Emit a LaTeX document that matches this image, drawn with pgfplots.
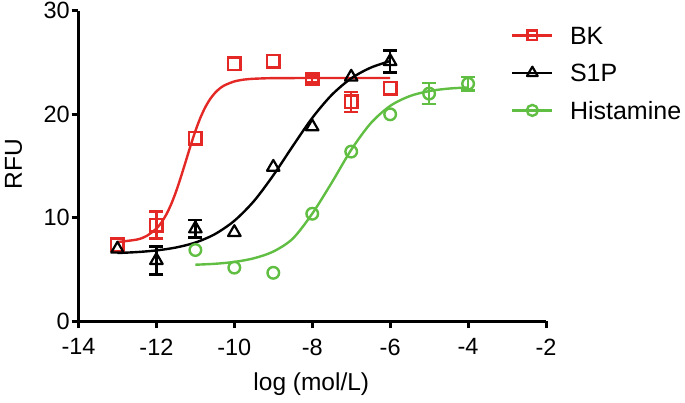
\documentclass[border=0pt]{standalone}
\usepackage{fontspec}
\setmainfont{Liberation Sans}
\usepackage{pgfplots}
\usepackage{pgfplotstable}
\pgfplotsset{compat=1.18}
\definecolor{bkred}{RGB}{228,40,38}
\definecolor{hgreen}{RGB}{96,190,66}

\pgfplotstableread{
x y
-13 7.67
-12.5 7.91
-12.25 8.26
-12 8.97
-11.875 9.54
-11.75 10.30
-11.625 11.29
-11.5 12.50
-11.375 13.91
-11.25 15.42
-11.125 16.95
-11 18.38
-10.875 19.63
-10.75 20.65
-10.625 21.45
-10.5 22.05
-10.375 22.49
-10.25 22.80
-10 23.17
-9.75 23.35
-9.5 23.43
-9 23.49
-8 23.50
-7 23.50
-6 23.50
}\bkcurve

\pgfplotstableread{
x y
-13 6.61
-12.5 6.70
-12 6.86
-11.5 7.14
-11 7.62
-10.5 8.43
-10 9.72
-9.5 11.61
-9 14.11
-8.5 16.93
-8 19.65
-7.5 21.87
-7 23.47
-6.5 24.50
-6 25.14
}\sonepcurve

\pgfplotstableread{
x y
-11 5.48
-10.5 5.57
-10 5.75
-9.5 6.10
-9 6.75
-8.5 8.00
-8 10.41
-7.5 13.40
-7 16.57
-6.5 19.13
-6 20.81
-5.5 21.75
-5 22.24
-4.5 22.48
-4 22.59
}\histcurve

\pgfplotstableread{
x y
-13 7.4
-11 17.7
-10 24.9
-9 25.1
-6 22.5
}\bkpts
\pgfplotstableread{
x y e
-12 9.3 1.3
-8 23.4 0.35
-7 21.2 0.95
}\bkerr

\pgfplotstableread{
x y
-13 7.0
-10 8.6
-9 14.9
-8 18.8
-7 23.6
}\sonepts
\pgfplotstableread{
x y e
-12 5.9 1.35
-11 8.95 0.85
-6 25.1 1.05
}\soneperr

\pgfplotstableread{
x y
-11 6.9
-10 5.2
-9 4.7
-8 10.4
-7 16.4
-6 20.0
}\histpts
\pgfplotstableread{
x y e
-5 22.0 1.0
-4 22.95 0.65
}\histerr

\begin{document}
\begin{tikzpicture}
\path[use as bounding box] (-78.5pt,-81.5pt) rectangle (606.5pt,321.5pt);
\begin{axis}[
  at={(0pt,0pt)}, anchor=south west,
  scale only axis, width=467.5pt, height=310.8pt,
  xmin=-14, xmax=-2, ymin=0, ymax=30,
  axis x line*=bottom, axis y line*=left,
  axis line style={line width=3pt, -},
  xtick={-14,-12,...,-2}, ytick={0,10,20,30},
  tick align=outside, major tick length=7pt,
  every tick/.style={black, line width=3pt},
  /pgf/number format/assume math mode=true,
  tick label style={font=\fontsize{23.5}{26}\selectfont},
  yticklabel style={inner xsep=1.5pt},
  xticklabel style={inner ysep=1pt, yshift=-9pt},
  label style={font=\fontsize{24.5}{28}\selectfont},
  xlabel={log (mol/L)}, ylabel={RFU},
  xlabel style={at={(axis description cs:0.498,-0.2215)}, anchor=base},
  ylabel style={at={(axis description cs:-0.139,0.507)}, anchor=center},
  legend image code/.code={\draw[mark repeat=2,mark phase=2] plot coordinates {(0pt,0pt)(20pt,0pt)(40pt,0pt)};},
  legend style={draw=none, fill=none, at={(0.925,0.963)}, anchor=north west,
    inner xsep=0pt, inner ysep=0pt, row sep=11.5pt, column sep=14.5pt,
    nodes={inner sep=2pt, text height=20pt, text depth=2pt},
    font=\fontsize{25}{28}\selectfont, cells={anchor=west}},
  clip=false,
]
% fitted curves
\addplot[bkred, line width=2.4pt, smooth, forget plot] table {\bkcurve};
\addplot[black, line width=2.4pt, smooth, forget plot] table {\sonepcurve};
\addplot[hgreen, line width=2.4pt, smooth, forget plot] table {\histcurve};
% points with error bars
\addplot[bkred, only marks, mark=square, mark size=6.2pt, line width=2.4pt, forget plot,
  error bars/.cd, y dir=both, y explicit, error bar style={line width=2.4pt},
  error mark options={bkred, line width=2.4pt, mark size=7pt, rotate=90}]
  table[y error=e] {\bkerr};
\addplot[black, only marks, mark=triangle, mark size=7.2pt, line width=2.2pt, mark options={line join=round}, forget plot,
  error bars/.cd, y dir=both, y explicit, error bar style={line width=2.4pt},
  error mark options={black, line width=2.4pt, mark size=7pt, rotate=90}]
  table[y error=e] {\soneperr};
\addplot[hgreen, only marks, mark=o, mark size=5.8pt, line width=2.4pt, forget plot,
  error bars/.cd, y dir=both, y explicit, error bar style={line width=2.4pt},
  error mark options={hgreen, line width=2.4pt, mark size=7pt, rotate=90}]
  table[y error=e] {\histerr};
% points without error bars
\addplot[bkred, only marks, mark=square, mark size=6.2pt, line width=2.4pt, forget plot] table {\bkpts};
\addplot[black, only marks, mark=triangle, mark size=7.2pt, line width=2.2pt, mark options={line join=round}, forget plot] table {\sonepts};
\addplot[hgreen, only marks, mark=o, mark size=5.8pt, line width=2.4pt, forget plot] table {\histpts};
% legend
\addlegendimage{bkred, line width=2.4pt, mark=square, mark size=4.8pt}
\addlegendentry{BK}
\addlegendimage{black, line width=2.4pt, mark=triangle, mark size=6.2pt, mark options={line join=round, line width=2.2pt}}
\addlegendentry{S1P}
\addlegendimage{hgreen, line width=2.4pt, mark=o, mark size=5.5pt, mark options={fill=white}}
\addlegendentry{Histamine}
\end{axis}
\end{tikzpicture}
\end{document}
